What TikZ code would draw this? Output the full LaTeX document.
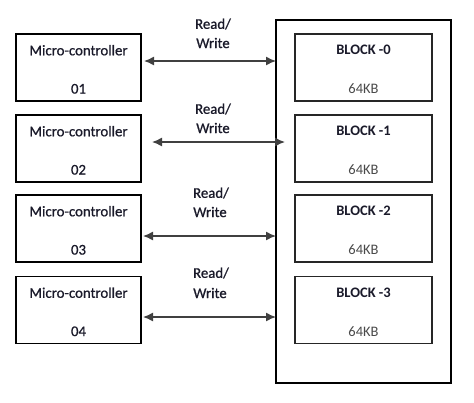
\documentclass[tikz,border=0pt]{standalone}
\usepackage{fontspec}
\setmainfont{Carlito}
\newfontfamily\semibold[FakeBold=0.8]{Carlito}
\usetikzlibrary{arrows.meta,calc}
\definecolor{txt}{HTML}{1A1A2A}
\definecolor{kb}{HTML}{4A4A4A}
\begin{document}
\begin{tikzpicture}[x=1pt,y=-1pt,
  mcbox/.style={draw=black, line width=1.6pt, minimum width=125pt, minimum height=67pt, inner sep=0pt},
  blkbox/.style={draw=black!85, line width=1.5pt, minimum width=137pt, minimum height=67pt, inner sep=0pt},
  outer/.style={draw=black, line width=2pt, minimum width=175pt, minimum height=363pt, inner sep=0pt},
  lbl/.style={font=\fontsize{14.8}{17}\semibold, text=txt, inner sep=0pt},
  blbl/.style={font=\fontsize{14.5}{17}\selectfont\bfseries, text=txt, inner sep=0pt},
  kblbl/.style={font=\fontsize{14.5}{17}\selectfont, text=kb, inner sep=0pt},
  rw/.style={font=\fontsize{14.8}{17}\semibold, text=txt, inner sep=0pt},
  bidir/.style={line width=1.4pt, draw=black!75, {Latex[length=10pt,width=9pt]}-{Latex[length=10pt,width=9pt]}}]
\useasboundingbox (0,0) rectangle (474,402);
% outer memory box
\node[outer] (mem) at (363.5,201.5) {};
% micro-controllers
\foreach \i/\y in {1/67.5,2/148.5,3/228.5,4/310}{
  \node[mcbox] (mc\i) at (78.5,\y) {};
  \node[lbl] (mct\i) at ($(mc\i.north)+(0,17)$) {Micro-controller};
  \node[lbl] (mcn\i) at ($(mc\i.south)+(0,-13)$) {0\i};
}
% blocks
\foreach \i/\y in {1/67.5,2/148.5,3/228.5,4/310}{
  \pgfmathtruncatemacro{\b}{\i-1}
  \node[blkbox] (blk\i) at (363.5,\y) {};
  \node[blbl] (blkt\i) at ($(blk\i.north)+(0,17)$) {BLOCK -\b};
  \node[kblbl] (blkn\i) at ($(blk\i.south)+(0,-13)$) {64KB};
}
% arrows
\coordinate (a1l) at (144,61);  \coordinate (a1r) at (276,61);
\coordinate (a2l) at (152,142); \coordinate (a2r) at (285,142);
\coordinate (a3l) at (143,236); \coordinate (a3r) at (276,236);
\coordinate (a4l) at (143,317); \coordinate (a4r) at (276,317);
\draw[bidir] (a1l) -- (a1r);
\draw[bidir] (a2l) -- (a2r);
\draw[bidir] (a3l) -- (a3r);
\draw[bidir] (a4l) -- (a4r);
% labels
\node[rw] (r1) at (213,24) {Read/};  \node[rw] (w1) at (213,43) {Write};
\node[rw] (r2) at (213,109) {Read/}; \node[rw] (w2) at (213,128) {Write};
\node[rw] (r3) at (211,193) {Read/}; \node[rw] (w3) at (210,212) {Write};
\node[rw] (r4) at (211,273) {Read/}; \node[rw] (w4) at (210,293) {Write};
\end{tikzpicture}
\end{document}
